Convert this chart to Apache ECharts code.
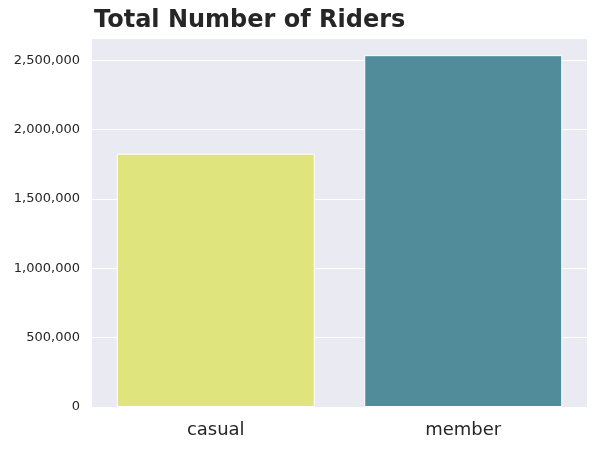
<!DOCTYPE html>
<html><head><meta charset="utf-8">
<script src="https://cdn.jsdelivr.net/npm/echarts@6/dist/echarts.min.js"></script>
<style>html,body{margin:0;padding:0;background:#fff}#c{width:597px;height:451px}</style>
</head><body><div id="c"></div>
<script>
const categories = ['casual', 'member'];
const riders = [1826000, 2536000];
const colors = ['#dfe57c', '#508c99'];
const chart = echarts.init(document.getElementById('c'));
chart.setOption({
  animation: false,
  title: { text: 'Total Number of Riders', left: 89, top: 4,
    textStyle: { fontFamily: 'DejaVu Sans', fontSize: 24, fontWeight: 'bold', color: '#262626' } },
  grid: { left: 92, right: 10, top: 38, bottom: 44, backgroundColor: '#eaeaf2', show: true, borderWidth: 0 },
  xAxis: { type: 'category', data: categories,
    axisLine: { show: false }, axisTick: { show: false },
    axisLabel: { fontFamily: 'DejaVu Sans', fontSize: 18, color: '#262626', margin: 14 } },
  yAxis: { type: 'value', min: 0, max: 2660000, interval: 500000,
    axisLine: { show: false }, axisTick: { show: false },
    splitLine: { lineStyle: { color: '#ffffff', width: 1.2 } },
    axisLabel: { fontFamily: 'DejaVu Sans', fontSize: 13, color: '#262626', margin: 12,
      showMaxLabel: false,
      formatter: v => v.toLocaleString('en-US') } },
  series: [{ type: 'bar', barWidth: '80%',
    data: riders.map((v, i) => ({ value: v, itemStyle: { color: colors[i], borderColor: '#fff', borderWidth: 1 } })) }]
});
</script></body></html>
